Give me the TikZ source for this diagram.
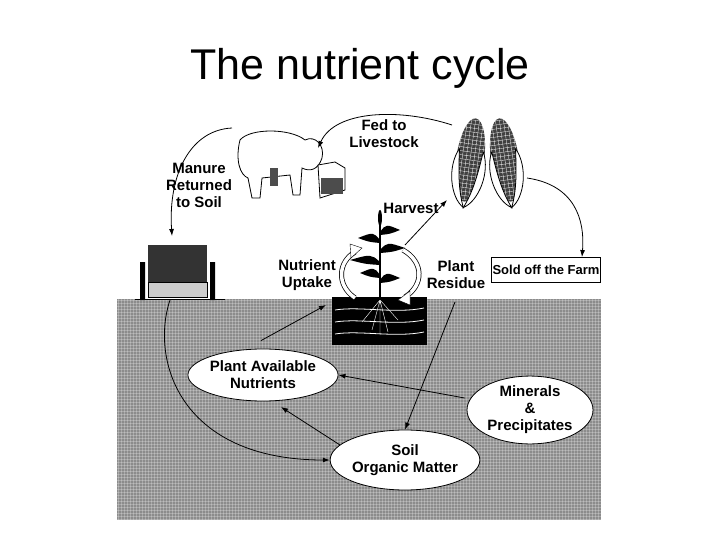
\documentclass[tikz,border=0pt]{standalone}
\usepackage{fontspec}
\setmainfont{Liberation Sans}
\usetikzlibrary{arrows.meta,shapes.geometric,patterns}
\begin{document}
\begin{tikzpicture}[x=1pt,y=-1pt,
  lab/.style={font=\bfseries\fontsize{15}{17}\selectfont,align=center,inner sep=1pt},
  ell/.style={ellipse,draw,thick,fill=white,font=\bfseries\fontsize{15}{17}\selectfont,align=center,inner sep=0pt},
  arr/.style={-{Latex[length=7pt,width=5pt]},thick}]
\useasboundingbox (0,0) rectangle (720,540);
\fill[white] (0,0) rectangle (720,540);
\node[font=\fontsize{43}{48}\selectfont] (title) at (360,68) {The nutrient cycle};
% soil
\fill[gray!90] (117,299) rectangle (601,520);
\foreach \i in {118,121,...,600} \draw[white,line width=0.3pt,opacity=0.25] (\i,299) -- (\i,520);
\foreach \j in {300,303,...,519} \draw[white,line width=0.3pt,opacity=0.25] (117,\j) -- (601,\j);
% soil block with plant
\fill[black] (332,297) rectangle (427,345);
\foreach \y in {310,322,334} \draw[white,thick] (335,\y) .. controls (360,\y-4) and (395,\y+4) .. (424,\y-2);
\draw[white] (380,300) -- (372,330) (380,300) -- (388,332) (380,300) -- (380,335) (380,300)--(362,322) (380,300)--(398,320);
\draw[black,line width=2pt] (380,300) -- (380,222);
\foreach \a/\b/\c in {380/262/350/250, 380/250/405/262, 380/240/358/232, 380/232/400/238, 380/275/360/285, 380/280/400/290}
  \fill[black] (\a,\b) .. controls (\a-0.3*\a+0.3*\c,\b-8) .. (\c,\c-\c+\b-2) .. controls (\a*0.5+\c*0.5,\b+2) .. (\a,\b+3);
\fill (380,218) ellipse (2 and 8);
% white circular arrows
\coordinate (u1) at (355,298); \coordinate (u2) at (355,252);
\coordinate (r1) at (403,250); \coordinate (r2) at (405,297);
\draw[line width=5pt,draw=black] (u1) .. controls (336,285) and (338,262) .. (u2);
\draw[line width=3.5pt,white] (u1) .. controls (336,285) and (338,262) .. (u2);
\fill[white,draw=black] (362,248) -- (350,244) -- (351,258) -- cycle;
\draw[line width=5pt,draw=black] (r1) .. controls (424,262) and (424,285) .. (r2);
\draw[line width=3.5pt,white] (r1) .. controls (424,262) and (424,285) .. (r2);
\fill[white,draw=black] (398,300) -- (410,305) -- (410,291) -- cycle;
% manure spreader
\fill[black!80] (148,245) rectangle (207,282);
\fill[gray!40] (148,282) rectangle (207,297);
\draw[thick] (148,282) rectangle (207,297);
\fill[black] (140,262) rectangle (145,300) (210,262) rectangle (215,300);
\draw[thick] (135,299) -- (225,299);
\coordinate (spread) at (170,300);
% cow and feeder (simplified)
\fill[white,draw=black,thick] (240,140) .. controls (250,128) and (290,128) .. (305,140) .. controls (315,135) and (325,145) .. (322,158) .. controls (318,170) and (310,172) .. (302,168) -- (300,195) -- (293,195) -- (290,175) -- (262,178) -- (260,198) -- (252,198) -- (248,178) .. controls (240,175) and (235,160) .. (240,140) -- cycle;
\fill[black!70] (270,168) rectangle (278,186);
\fill[white,draw=black,thick] (318,165) -- (335,162) -- (345,168) -- (345,190) -- (320,198) -- cycle;
\fill[black!70] (321,178) rectangle (343,194);
% corn
\foreach \cx/\r in {470/-8,505/8}{
  \begin{scope}[shift={(\cx,160)},rotate=\r]
  \fill[black!75] (0,0) ellipse (14 and 42);
  \foreach \k in {-12,-8,...,12} \draw[white,line width=0.3pt] (\k,-40) -- (\k,40);
  \foreach \k in {-40,-36,...,40} \draw[white,line width=0.3pt] (-14,\k) -- (14,\k);
  \draw[thick,fill=white] (-12,-10) .. controls (-22,10) and (-14,40) .. (0,48) .. controls (-8,30) and (-10,10) .. (-12,-10);
  \draw[thick,fill=white] (12,-10) .. controls (22,10) and (14,40) .. (0,48) .. controls (8,30) and (10,10) .. (12,-10);
  \end{scope}}
\coordinate (cornL) at (452,125); \coordinate (cornR) at (527,178); \coordinate (cornB) at (447,200);
\coordinate (cow) at (232,128); \coordinate (feed) at (318,148);
% nodes
\node[ell,minimum width=142,minimum height=52] (pan) at (263,375) {Plant Available\\Nutrients};
\node[ell,minimum width=140,minimum height=60] (som) at (405,460) {Soil\\Organic Matter};
\node[ell,minimum width=126,minimum height=66] (min) at (530,410) {Minerals\\\&\\Precipitates};
\node[draw,thick,fill=white,minimum width=108,minimum height=25,font=\bfseries\fontsize{13}{15}\selectfont,inner sep=1pt] (sold) at (546,270) {Sold off the Farm};
\node[lab] (fed) at (384,134) {Fed to\\Livestock};
\node[lab] (man) at (199,185) {Manure\\Returned\\to Soil};
\node[lab] (harv) at (411,208) {Harvest};
\node[lab] (upt) at (307,275) {Nutrient\\Uptake};
\node[lab] (res) at (456,275) {Plant\\Residue};
\coordinate (plantbase) at (326,305); \coordinate (plantT) at (405,245);
\coordinate (resS) at (455,302);
% arrows
\draw[arr] (cornL) .. controls (400,108) and (335,110) .. (feed);
\draw[arr] (cow) .. controls (190,130) and (168,175) .. (172,236);
\draw[arr] (plantT) -- (cornB);
\draw[arr] (cornR) .. controls (575,185) and (585,220) .. (sold.north -| 582,0);
\draw[arr] (spread) .. controls (150,360) and (180,460) .. (som.west);
\draw[arr] (pan.north) ++(-2,-8) -- (plantbase);
\draw[arr] (min.west) ++(-2,-12) -- (pan.east);
\draw[arr] (som) ++(-65,-15) -- (281,407);
\draw[arr] (resS) -- (som.north);
\end{tikzpicture}
\end{document}
